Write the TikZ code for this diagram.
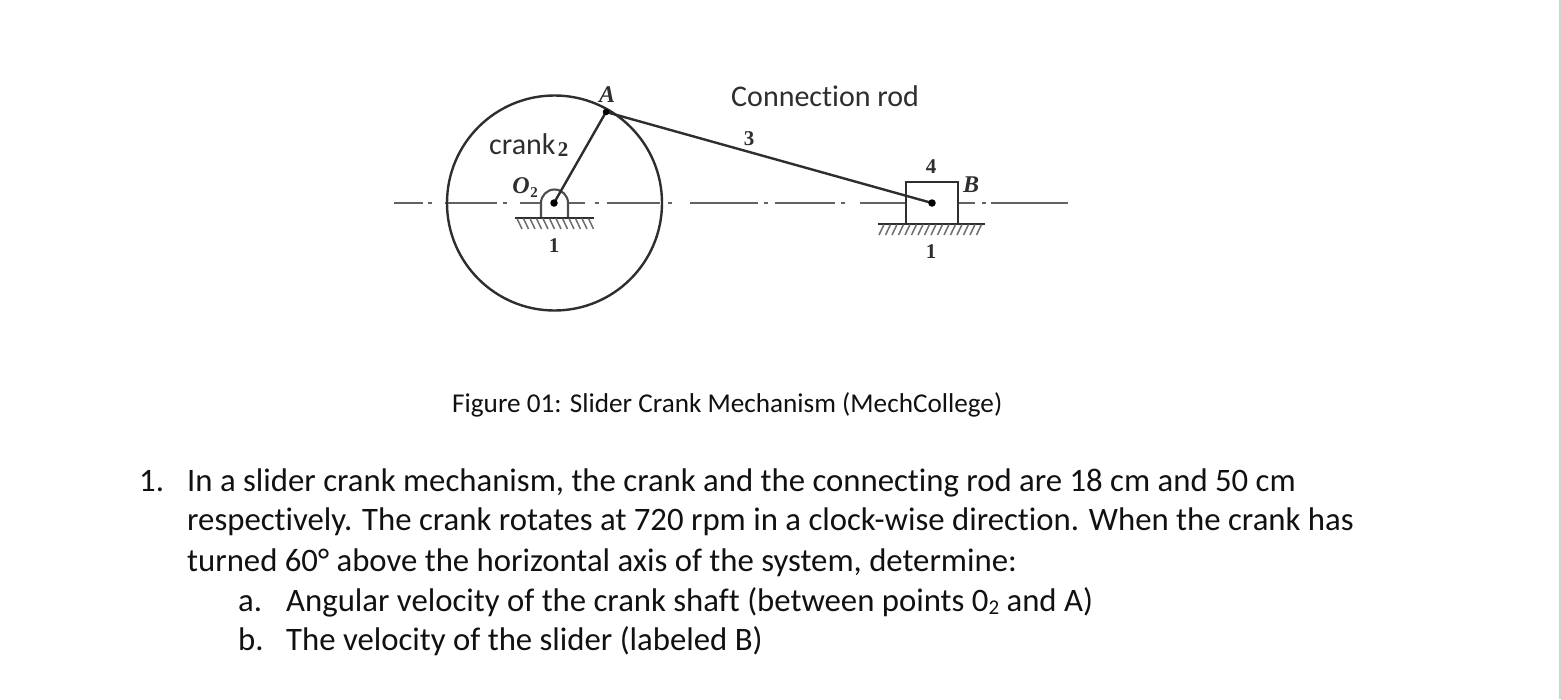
\documentclass[tikz,border=0pt]{standalone}
\usepackage{fontspec}
\setmainfont[Ligatures=NoCommon]{Carlito}
\newfontfamily\labfont{Liberation Serif}
\definecolor{ink}{HTML}{2E2E2E}
\definecolor{txt}{HTML}{111111}
\tikzset{
  mech/.style={draw=ink,line width=2.4pt},
  thin mech/.style={draw=ink!85,line width=2.1pt},
  axisline/.style={draw=ink!75,line width=1.8pt},
  hatchline/.style={draw=ink!70,line width=1.5pt},
  pin/.style={circle,fill=black,inner sep=0pt,minimum size=7.5pt},
  diagtext/.style={inner sep=0pt,text=ink,font=\fontsize{30}{36}\selectfont},
  marklabel/.style={inner sep=0pt,text=ink,font=\labfont\bfseries\fontsize{21}{24}\selectfont},
  marklabelit/.style={inner sep=0pt,text=ink,font=\labfont\bfseries\itshape\fontsize{24}{28}\selectfont},
  caption/.style={inner sep=0pt,anchor=base west,text=txt,font=\fontsize{27.2}{32}\selectfont},
  body/.style={inner sep=0pt,anchor=base west,text=txt,font=\fontsize{32.75}{40}\selectfont}
}
\begin{document}
\begin{tikzpicture}[x=1pt,y=-1pt]
\useasboundingbox (0,0) rectangle (1561,699);
\fill[white] (0,0) rectangle (1561,699);
\draw[draw=gray!35,line width=2pt] (1559.5,0) -- (1559.5,699);

% centre line
\foreach \a/\b in {394/423,445/497,520/541,568/585,607/660,690/758,775/835,860/905,958/975,991/1068}
  \draw[axisline] (\a,203) -- (\b,203);
\foreach \a in {430,505,597,670,766,843,984}
  \draw[axisline] (\a-2,203) -- (\a+2,203);

% crank circle and points
\coordinate (O) at (554,203);
\coordinate (A) at (606,112);
\node[draw=ink,line width=2.4pt,circle,inner sep=0pt,minimum size=215pt] (wheel) at (554.5,203) {};
\node[draw=ink,line width=2.4pt,minimum width=52pt,minimum height=42pt,inner sep=0pt] (slider) at (932,203) {};
\coordinate (B) at (932,203);

% bearing
\draw[thin mech] (541,218) -- (541,203) arc[start angle=180,end angle=0,radius=13.5pt] -- (568,218);

% grounds
\draw[mech] (515,218) -- (594,218);
\foreach \x in {517,523.5,...,590}
  \draw[hatchline] (\x,218.5) -- (\x+5,229);
\draw[mech] (878,224) -- (985,224);
\foreach \x in {879,885.5,...,979}
  \draw[hatchline] (\x+5,224.5) -- (\x,235);

% links
\draw[mech] (O) -- (A);
\draw[mech] (A) -- (B);
\node[pin] (pinO) at (O) {};
\node[pin,minimum size=6.5pt] (pinA) at (A) {};
\node[pin] (pinB) at (B) {};

% labels
\node[marklabelit] (lA) at (607,95) {A};
\node[marklabelit] (lO) at (521,186) {O};
\node[marklabel,font=\labfont\bfseries\fontsize{15}{18}\selectfont] (lO2) at (534,193) {2};
\node[marklabelit] (lB) at (971,185) {B};
\node[marklabel] (l1a) at (554,246) {1};
\node[marklabel] (l1b) at (931,252) {1};
\node[marklabel] (l3) at (749,139) {3};
\node[marklabel] (l4) at (931,167) {4};
\node[diagtext,anchor=base west] (crank) at (489,154) {crank};
\node[marklabel,font=\labfont\bfseries\fontsize{21}{24}\selectfont] (l2) at (563,150) {2};
\node[diagtext,anchor=base west] (rod) at (731,106) {Connection rod};

% caption
\node[caption] (cap) at (452,412) {Figure 01: Slider Crank Mechanism (MechCollege)};

% text
\node[body] (n1) at (139,491) {1.};
\node[body] (l1) at (187,491) {In a slider crank mechanism, the crank and the connecting rod are 18 cm and 50 cm};
\node[body] (l2t) at (187,530) {respectively. The crank rotates at 720 rpm in a clock-wise direction. When the crank has};
\node[body] (l3t) at (187,571) {turned 60° above the horizontal axis of the system, determine:};
\node[body] (na) at (238,611) {a.};
\node[body] (la) at (286,611) {Angular velocity of the crank shaft (between points 0\raisebox{-3pt}{\fontsize{21}{24}\selectfont 2} and A)};
\node[body] (nb) at (238,650) {b.};
\node[body] (lb) at (286,650) {The velocity of the slider (labeled B)};
\end{tikzpicture}
\end{document}
